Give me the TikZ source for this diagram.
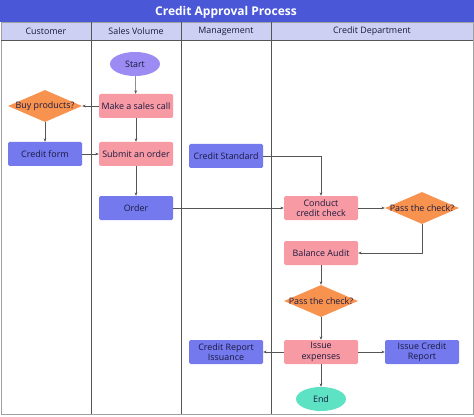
\documentclass[tikz,border=0pt]{standalone}
\usepackage{fontspec}
\setmainfont{Open Sans}
\usetikzlibrary{arrows.meta, positioning, shapes.geometric}
\definecolor{titleblue}{HTML}{4A58D8}
\definecolor{headlav}{HTML}{CDD0F2}
\definecolor{actpink}{HTML}{F89AA3}
\definecolor{docblue}{HTML}{7479EE}
\definecolor{decorange}{HTML}{F8924F}
\definecolor{startpurple}{HTML}{9B8BF2}
\definecolor{endteal}{HTML}{5DE3C4}
\definecolor{textdark}{HTML}{1A1A40}
\definecolor{linegray}{HTML}{555555}
\definecolor{framegray}{HTML}{A0A0A0}

\begin{document}
\begin{tikzpicture}[
  x=1pt, y=-1pt,
  font=\fontsize{8.9}{10.5}\selectfont,
  box/.style={rounded corners=1.5pt, align=center, minimum width=74pt, minimum height=24pt, inner sep=0pt, text=textdark},
  act/.style={box, fill=actpink},
  doc/.style={box, fill=docblue},
  dec/.style={diamond, fill=decorange, minimum width=74pt, minimum height=32pt, inner sep=0pt, text=textdark},
  term/.style={ellipse, minimum width=50pt, minimum height=24pt, inner sep=0pt, text=textdark},
  lane/.style={font=\fontsize{8.9}{10.5}\selectfont, text=textdark},
  flow/.style={->, draw=linegray, line width=0.5pt},
  >={Stealth[length=3.5pt, width=2.8pt]}
]
\useasboundingbox (0,0) rectangle (474,417);
% title bar and lane headers
\fill[titleblue] (0,0) rectangle (474,22);
\fill[headlav] (1,22) rectangle (473,40);
\draw[framegray, line width=0.8pt] (1,22) rectangle (473,414);
\draw[linegray, line width=0.5pt] (1,40) -- (473,40);
\draw[linegray, line width=0.6pt] (91,22) -- (91,414);
\draw[linegray, line width=0.6pt] (181,22) -- (181,414);
\draw[linegray, line width=0.6pt] (271,22) -- (271,414);
\node[text=white, font=\bfseries\fontsize{12}{14}\selectfont] (title) at (226,12) {Credit Approval Process};
\node[lane] (hcust) at (46,31) {Customer};
\node[lane] (hsales) at (136,31) {Sales Volume};
\node[lane] (hmgmt) at (226,31) {Management};
\node[lane] (hcredit) at (372,31) {Credit Department};

% flow nodes
\node[term, fill=startpurple] (start) at (135,64) {Start};
\node[act] (call) at (136,106) {Make a sales call};
\node[dec] (buy) at (45,106) {\makebox[0pt]{Buy products?}};
\node[doc] (form) at (45,154) {Credit form};
\node[act] (submit) at (136,154) {Submit an order};
\node[doc] (order) at (136,208) {Order};
\node[doc] (standard) at (226,156) {Credit Standard};
\node[act] (conduct) at (321,208) {Conduct\\credit check};
\node[dec] (passA) at (422,208) {\makebox[0pt]{Pass the check?}};
\node[act] (audit) at (321,253) {Balance Audit};
\node[dec] (passB) at (321,301) {\makebox[0pt]{Pass the check?}};
\node[act] (expenses) at (321,352) {Issue\\expenses};
\node[doc] (issuance) at (226,352) {Credit Report\\Issuance};
\node[doc] (report) at (422,352) {Issue Credit\\Report};
\node[term, fill=endteal] (finish) at (321,399) {End};

% connectors
\draw[flow] (start) -- (call);
\draw[flow] (call) -- (buy);
\draw[flow] (buy) -- (form);
\draw[flow] (form) -- (submit);
\draw[flow] (call) -- (submit);
\draw[flow] (submit) -- (order);
\draw[flow] (order) -- (conduct);
\draw[flow] (standard) -| (conduct);
\draw[flow] (conduct) -- (passA);
\draw[flow] (passA) |- (audit);
\draw[flow] (audit) -- (passB);
\draw[flow] (passB) -- (expenses);
\draw[flow] (expenses) -- (issuance);
\draw[flow] (expenses) -- (report);
\draw[flow] (expenses) -- (finish);
\end{tikzpicture}
\end{document}
